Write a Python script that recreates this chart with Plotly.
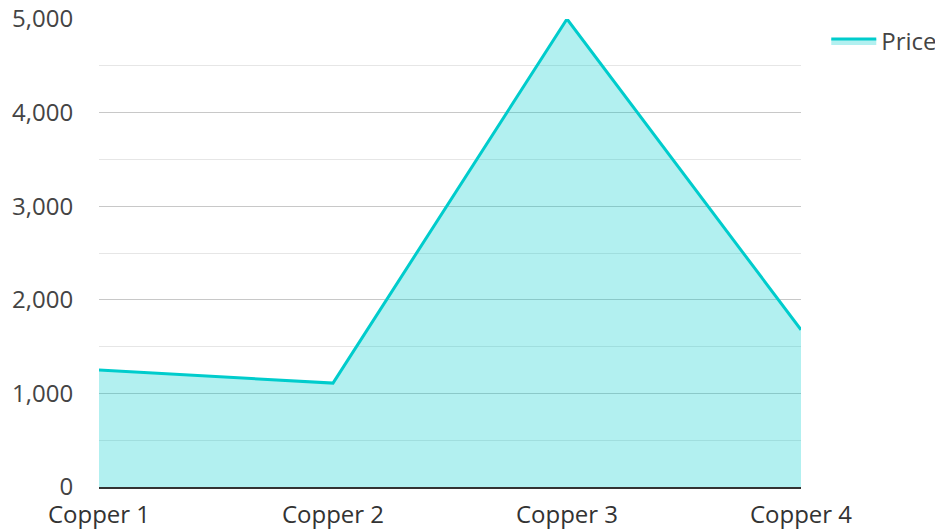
import plotly.graph_objects as go

categories = ["Copper 1", "Copper 2", "Copper 3", "Copper 4"]
price = [1250, 1110, 5000, 1680]
series_name = "Price"
y_ticks = [0, 1000, 2000, 3000, 4000, 5000]
y_tick_labels = ["0", "1,000", "2,000", "3,000", "4,000", "5,000"]

fig = go.Figure()
fig.add_trace(go.Scatter(
    x=categories, y=price, name=series_name, mode="lines",
    line=dict(color="#00CCCC", width=3),
    fill="tozeroy", fillcolor="rgba(0,204,204,0.3)",
))

font_family = "Open Sans"
fig.update_layout(
    width=935, height=521,
    margin=dict(l=91, r=142, t=11, b=42, autoexpand=False),
    paper_bgcolor="white", plot_bgcolor="white",
    font=dict(family=font_family, size=24, color="#444"),
    showlegend=True,
    legend=dict(x=1.036, y=1.0, xanchor="left", yanchor="top",
                itemwidth=45,
                font=dict(size=24, color="#444"), bgcolor="rgba(0,0,0,0)"),
    xaxis=dict(
        type="category", range=[0, 3], showgrid=False, automargin=False,
        showline=True, linecolor="#333", linewidth=2,
        ticks="outside", ticklen=5, tickcolor="rgba(0,0,0,0)",
        ticklabeloverflow="allow",
        tickfont=dict(size=24, color="#333"), zeroline=False,
    ),
    yaxis=dict(
        range=[0, 5000], tickvals=y_ticks, ticktext=y_tick_labels, automargin=False,
        showgrid=True, gridcolor="#c8c8c8", gridwidth=1,
        minor=dict(dtick=500, showgrid=True, gridcolor="#e6e6e6", gridwidth=1),
        zeroline=False, showline=False,
        ticks="outside", ticklen=20, tickcolor="rgba(0,0,0,0)",
        ticklabeloverflow="allow",
        tickfont=dict(size=24, color="#444"),
    ),
)

fig.write_html("out.html")
